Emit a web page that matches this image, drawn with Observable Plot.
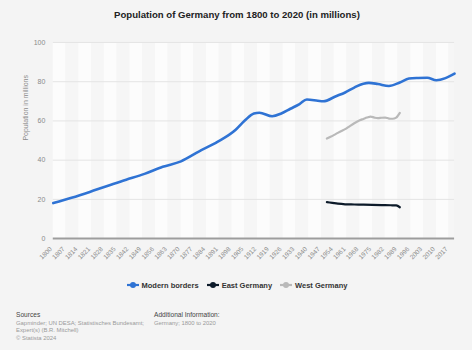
<!DOCTYPE html>
<html>
<head>
<meta charset="utf-8">
<script src="https://cdn.jsdelivr.net/npm/d3@7"></script>
<script src="https://cdn.jsdelivr.net/npm/@observablehq/plot@0.6"></script>
<style>
  html, body { margin: 0; padding: 0; background: #ffffff; }
  #wrap { position: relative; width: 472px; height: 350px; background: #f4f4f4; font-family: "Liberation Sans", Arial, sans-serif; overflow: hidden; }
  #title { position: absolute; top: 9px; left: 0; width: 474px; text-align: center; font-weight: bold; font-size: 9.6px; color: #222; }
  #chart { position: absolute; top: 30px; left: 0; }
  #legend { position: absolute; top: 281px; left: 0; width: 474px; text-align: center; font-size: 7.5px; font-weight: bold; color: #333; }
  #legend span.item { margin: 0 4px; white-space: nowrap; }
  #legend svg { vertical-align: -1px; margin-right: 3px; }
  .foot { position: absolute; top: 311px; font-size: 5.9px; line-height: 7.7px; color: #9a9a9a; }
  .foot b { font-weight: normal; color: #444; font-size: 6.6px; }
</style>
</head>
<body>
<div id="wrap">
  <div id="title">Population of Germany from 1800 to 2020 (in millions)</div>
  <div id="chart"></div>
  <div id="legend"></div>
  <div class="foot" style="left:16px;"><b>Sources</b><br>Gapminder; UN DESA; Statistisches Bundesamt;<br>Expert(s) (B.R. Mitchell)<br>© Statista 2024</div>
  <div class="foot" style="left:154px;"><b>Additional Information:</b><br>Germany; 1800 to 2020</div>
</div>
<script>
// ---- data ----
const modernYears  = [1800,1810,1820,1830,1840,1850,1860,1870,1880,1890,1900,1905,1910,1913,1920,1925,1930,1935,1939,1945,1948,1955,1960,1965,1970,1973,1978,1984,1990,1995,2000,2005,2010,2015,2020];
const modernValues = [18.1,20.8,23.8,27.0,30.0,33.0,36.6,39.4,44.5,49.3,55.5,60.2,63.8,64.2,62.4,63.8,66.2,68.6,70.9,70.3,70.0,72.6,74.5,77.0,79.0,79.4,78.8,77.8,79.6,81.6,81.9,82.0,80.7,81.8,84.1];
const eastYears  = [1950,1953,1956,1960,1965,1970,1975,1980,1985,1988,1990];
const eastValues = [18.6,18.2,17.8,17.5,17.4,17.3,17.2,17.1,17.0,16.9,16.0];
const westYears  = [1950,1952,1955,1958,1960,1962,1965,1968,1970,1972,1974,1976,1978,1980,1982,1984,1986,1988,1990];
const westValues = [51.0,51.9,53.4,54.9,55.8,57.0,58.8,60.3,61.0,61.7,62.2,61.7,61.4,61.6,61.7,61.2,61.1,61.7,64.1];
const xTickLabels = ["1800","1807","1814","1821","1828","1835","1842","1849","1856","1863","1870","1877","1884","1891","1898","1905","1912","1919","1926","1933","1940","1947","1954","1961","1968","1975","1982","1989","1996","2003","2010","2017"];
const yTicks = [0,20,40,60,80,100];
const seriesNames  = ["Modern borders","East Germany","West Germany"];
const seriesColors = ["#2f73d4","#0d1b2a","#b9b9b9"];

// ---- build tables ----
const rows = [];
modernYears.forEach((y,i) => rows.push({series: seriesNames[0], year: y, value: modernValues[i]}));
eastYears.forEach((y,i) => rows.push({series: seriesNames[1], year: y, value: eastValues[i]}));
westYears.forEach((y,i) => rows.push({series: seriesNames[2], year: y, value: westValues[i]}));

const tickYears = xTickLabels.map(Number);
const bands = tickYears.map((t,i) => ({x1: t, x2: Math.min(t + 7, 2020), odd: i % 2}));

const colorOf = Object.fromEntries(seriesNames.map((s,i) => [s, seriesColors[i]]));

const plot = Plot.plot({
  width: 474,
  height: 240,
  marginTop: 12,
  marginBottom: 31,
  marginLeft: 53,
  marginRight: 18,
  style: {background: "transparent", fontFamily: "'Liberation Sans', Arial, sans-serif"},
  x: {type: "linear", domain: [1800, 2020], axis: null},
  y: {domain: [0, 100]},
  marks: [
    Plot.rect(bands, {x1: "x1", x2: "x2", y1: 0, y2: 100, fill: d => d.odd ? "#f6f6f6" : "#fcfcfc"}),
    Plot.ruleY(yTicks.filter(d => d > 0), {stroke: "#e4e4e4", strokeWidth: 1}),
    Plot.ruleY([0], {stroke: "#9d9d9d", strokeWidth: 2}),
    Plot.axisY({ticks: yTicks, tickSize: 0, tickPadding: 8, fontSize: 7, color: "#8a8a8a", label: null}),
    Plot.text(xTickLabels, {x: d => Number(d), text: d => d, frameAnchor: "bottom", rotate: -45, textAnchor: "end", dx: -1, dy: 11, fontSize: 6.5, fill: "#8a8a8a"}),
    Plot.text(["Population in millions"], {frameAnchor: "left", dx: -28, rotate: -90, fontSize: 7, fill: "#8a8a8a"}),
    Plot.line(rows, {x: "year", y: "value", z: "series", stroke: d => colorOf[d.series], strokeWidth: d => d.series === seriesNames[0] ? 2.6 : 2.2, curve: "monotone-x"})
  ]
});
document.getElementById("chart").appendChild(plot);

// ---- legend ----
const legend = document.getElementById("legend");
seriesNames.forEach((s,i) => {
  const item = document.createElement("span");
  item.className = "item";
  item.innerHTML = `<svg width="12" height="8"><line x1="0" y1="4" x2="12" y2="4" stroke="${seriesColors[i]}" stroke-width="2.2"/><circle cx="6" cy="4" r="3" fill="${seriesColors[i]}"/></svg>${s}`;
  legend.appendChild(item);
});
</script>
</body>
</html>
